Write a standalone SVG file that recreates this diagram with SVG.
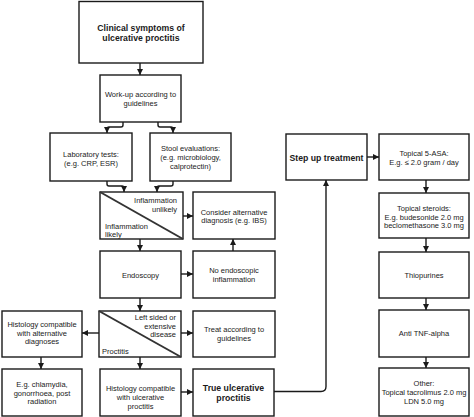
<svg xmlns="http://www.w3.org/2000/svg" width="474" height="417" viewBox="0 0 474 417">
<style>
.b{fill:#fff;stroke:#1a1a1a;stroke-width:1.4}
.t{font-family:"Liberation Sans",Arial,sans-serif;font-size:7.5px;fill:#1a1a1a;text-anchor:middle}
.tb{font-family:"Liberation Sans",Arial,sans-serif;font-size:8.7px;font-weight:bold;fill:#1a1a1a;text-anchor:middle}
.r{text-anchor:end}
.l{text-anchor:start}
.c{fill:none;stroke:#1a1a1a;stroke-width:1.4}
.d{stroke:#333;stroke-width:2}
</style>
<defs>
<marker id="a" markerWidth="6" markerHeight="6" viewBox="0 0 6 6" refX="6" refY="3" orient="auto" markerUnits="userSpaceOnUse">
<path d="M0,0 L6,3 L0,6 z" fill="#1a1a1a"/>
</marker>
</defs>
<rect width="474" height="417" fill="#fff"/>
<g id="n1"><rect class="b" x="79" y="1.5" width="124" height="61.5"/><text class="tb" x="141" y="31">Clinical symptoms of</text><text class="tb" x="141" y="41">ulcerative proctitis</text></g>
<g id="n2"><rect class="b" x="100" y="75" width="81" height="47"/><text class="t" x="140.5" y="97">Work-up according to</text><text class="t" x="140.5" y="106">guidelines</text></g>
<g id="n3"><rect class="b" x="50" y="133" width="82" height="48"/><text class="t" x="91" y="157">Laboratory tests:</text><text class="t" x="91" y="165.5">(e.g. CRP, ESR)</text></g>
<g id="n4"><rect class="b" x="150" y="133" width="81" height="48"/><text class="t" x="190.5" y="151">Stool evaluations:</text><text class="t" x="190.5" y="160">(e.g. microbiology,</text><text class="t" x="190.5" y="168.5">calprotectin)</text></g>
<g id="n5"><rect class="b" x="100" y="192" width="83" height="47"/><line class="d" x1="100" y1="192" x2="183" y2="239"/><text class="t r" x="177" y="202.5">Inflammation</text><text class="t r" x="177" y="211.5">unlikely</text><text class="t l" x="105" y="228.5">Inflammation</text><text class="t l" x="105" y="237">likely</text></g>
<g id="n6"><rect class="b" x="193" y="192" width="82" height="47"/><text class="t" x="234" y="214.5">Consider alternative</text><text class="t" x="234" y="223">diagnosis (e.g. IBS)</text></g>
<g id="n7"><rect class="b" x="100" y="251" width="81" height="47"/><text class="t" x="140.5" y="277.5">Endoscopy</text></g>
<g id="n8"><rect class="b" x="193" y="251" width="82" height="47"/><text class="t" x="234" y="273">No endoscopic</text><text class="t" x="234" y="281.5">inflammation</text></g>
<g id="n9"><rect class="b" x="99" y="311" width="82" height="46"/><line class="d" x1="99" y1="311" x2="181" y2="357"/><text class="t r" x="176" y="320">Left sided or</text><text class="t r" x="176" y="328.5">extensive</text><text class="t r" x="176" y="337">disease</text><text class="t l" x="102" y="354">Proctitis</text></g>
<g id="n10"><rect class="b" x="2" y="311" width="80" height="46"/><text class="t" x="42" y="327">Histology compatible</text><text class="t" x="42" y="335.5">with alternative</text><text class="t" x="42" y="344">diagnoses</text></g>
<g id="n11"><rect class="b" x="2" y="369" width="80" height="47"/><text class="t" x="42" y="387">E.g. chlamydia,</text><text class="t" x="42" y="395.5">gonorrhoea, post</text><text class="t" x="42" y="404">radiation</text></g>
<g id="n12"><rect class="b" x="193" y="311" width="82" height="46"/><text class="t" x="234" y="331.5">Treat according to</text><text class="t" x="234" y="340.5">guidelines</text></g>
<g id="n13"><rect class="b" x="100" y="369" width="81" height="47"/><text class="t" x="140.5" y="391">Histology compatible</text><text class="t" x="140.5" y="399.5">with ulcerative</text><text class="t" x="140.5" y="408.5">proctitis</text></g>
<g id="n14"><rect class="b" x="193" y="369" width="81" height="47"/><text class="tb" x="233.5" y="391">True ulcerative</text><text class="tb" x="233.5" y="400.5">proctitis</text></g>
<g id="n15"><rect class="b" x="286" y="134" width="81" height="46"/><text class="tb" x="326.5" y="161">Step up treatment</text></g>
<g id="n16"><rect class="b" x="379" y="134" width="90" height="46"/><text class="t" x="424" y="155.5">Topical 5-ASA:</text><text class="t" x="424" y="164.5">E.g. ≤ 2.0 gram / day</text></g>
<g id="n17"><rect class="b" x="379" y="193" width="90" height="45"/><text class="t" x="424" y="210.5">Topical steroids:</text><text class="t" x="424" y="219.5">E.g. budesonide 2.0 mg</text><text class="t" x="424" y="227.5">beclomethasone 3.0 mg</text></g>
<g id="n18"><rect class="b" x="379" y="252" width="90" height="46"/><text class="t" x="424" y="277.7">Thiopurines</text></g>
<g id="n19"><rect class="b" x="379" y="310" width="90" height="47"/><text class="t" x="424" y="336">Anti TNF-alpha</text></g>
<g id="n20"><rect class="b" x="379" y="368" width="90" height="48"/><text class="t" x="424" y="385.7">Other:</text><text class="t" x="424" y="394.7">Topical tacrolimus 2.0 mg</text><text class="t" x="424" y="403.7">LDN 5.0 mg</text></g>
<g id="connectors" class="c" marker-end="url(#a)">
<path d="M140,63 V75"/>
<path d="M123,122 V125 Q123,127 121,127 H109 Q107,127 107,129 V133"/>
<path d="M158,122 V125 Q158,127 160,127 H171 Q173,127 173,129 V133"/>
<path d="M107,181 V184 Q107,186 109,186 H122 Q124,186 124,188 V192"/>
<path d="M173,181 V184 Q173,186 171,186 H159 Q157,186 157,188 V192"/>
<path d="M183,216 H193"/>
<path d="M140,239 V251"/>
<path d="M181,274 H193"/>
<path d="M233,251 V239"/>
<path d="M140,298 V311"/>
<path d="M99,333 H82"/>
<path d="M181,333 H193"/>
<path d="M41,357 V369"/>
<path d="M140,357 V369"/>
<path d="M181,392 H193"/>
<path d="M274,391.5 H321 Q326,391.5 326,386.5 V180"/>
<path d="M367,157 H379"/>
<path d="M426,180 V193"/>
<path d="M426,238 V252"/>
<path d="M426,298 V310"/>
<path d="M426,357 V368"/>
</g>
</svg>
